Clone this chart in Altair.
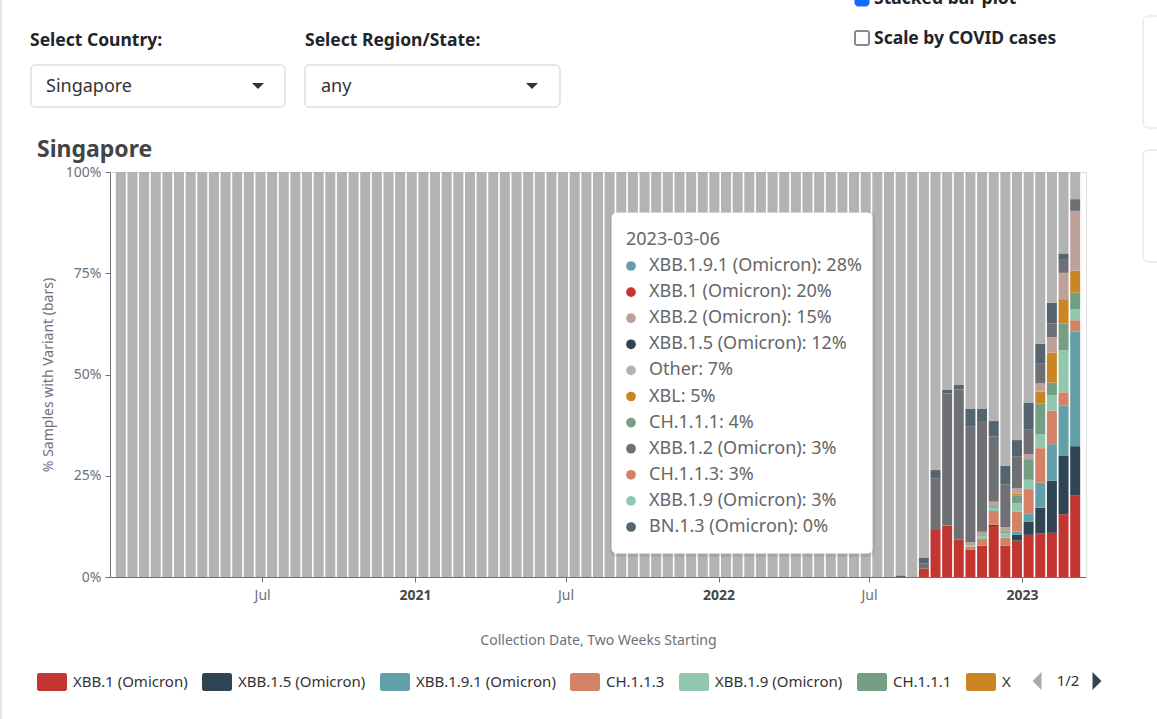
import altair as alt
import pandas as pd

# ---------------- data ----------------
FIRST_DATE = "2020-01-13"   # first two-week bin
N_BARS = 83                 # biweekly bins up to 2023-03-06

variants = ["XBB.1 (Omicron)", "XBB.1.5 (Omicron)", "XBB.1.9.1 (Omicron)", "CH.1.1.3",
            "XBB.1.9 (Omicron)", "CH.1.1.1", "XBL", "XBB.2 (Omicron)",
            "XBB.1.2 (Omicron)", "BN.1.3 (Omicron)", "Other"]
colors = ["#c23531", "#2f4554", "#61a0a8", "#d48265", "#91c7ae", "#749f83",
          "#ca8622", "#bda29a", "#6e7074", "#546570", "#b3b3b3"]

# % of samples per bin (first 67 bins have no named variant)
xbb1 = [0] * 67 + [0, 0, 2.1, 11.6, 12.7, 9.3, 6.8, 7.7, 12.6, 7.7, 9.0, 10.4, 10.8, 10.9, 15.5, 20.2]
xbb15 = [0] * 67 + [0, 0, 0, 0, 0, 0, 0, 0, 0.3, 0, 1.4, 3.3, 6.3, 12.9, 14.5, 12.1]
xbb191 = [0] * 67 + [0, 0, 0, 0, 0, 0, 0, 0, 0, 0, 0.8, 1.9, 6.2, 9.0, 12.3, 28.3]
ch113 = [0] * 67 + [0, 0, 0, 0, 0, 0, 0.7, 1.7, 3.4, 2.0, 4.9, 6.1, 8.5, 8.3, 3.3, 2.8]
xbb19 = [0] * 67 + [0, 0, 0, 0, 0, 0, 0.4, 0.7, 0.8, 1.1, 2.1, 2.3, 3.4, 3.8, 10.4, 2.7]
ch111 = [0] * 67 + [0, 0, 0, 0, 0, 0, 0, 0, 0.4, 0.3, 1.9, 5.1, 7.7, 3.1, 6.6, 4.1]
xbl = [0] * 67 + [0, 0, 0, 0, 0, 0, 0, 0, 0, 0, 0.5, 0, 2.9, 7.4, 6.0, 5.4]
xbb2 = [0] * 67 + [0, 0, 0, 0, 0, 0, 0.7, 1.1, 1.1, 1.2, 1.3, 1.2, 2.0, 3.8, 6.5, 14.8]
xbb12 = [0] * 67 + [0, 0, 1.2, 12.8, 32.7, 37.0, 28.5, 27.3, 16.1, 10.5, 7.8, 6.2, 5.0, 3.4, 3.2, 2.9]
bn13 = [0] * 67 + [0.4, 0, 1.4, 2.0, 0.9, 1.1, 4.5, 3.1, 3.8, 4.7, 4.1, 6.6, 4.8, 5.1, 1.6, 0]
other = [100] * 67 + [99.6, 100, 95.3, 73.6, 53.7, 52.6, 58.4, 58.4, 61.5, 72.5, 66.2, 56.9, 42.4, 32.3, 20.1, 6.7]

series = [xbb1, xbb15, xbb191, ch113, xbb19, ch111, xbl, xbb2, xbb12, bn13, other]

dates = pd.date_range(FIRST_DATE, periods=N_BARS, freq="14D")
rows = []
for k, (name, vals) in enumerate(zip(variants, series)):
    for d, v in zip(dates, vals):
        rows.append({"date": d, "variant": name, "pct": v, "stack_idx": k})
df = pd.DataFrame(rows)
df_bars = df[df["pct"] > 0]

# tooltip for the last bin: sorted by share
last = df[df["date"] == dates[-1]].sort_values("pct", ascending=False, kind="stable").reset_index(drop=True)
last["rank"] = range(len(last))
last["label"] = [f"{n}: {round(v)}%" for n, v in zip(last["variant"], last["pct"])]
last["col"] = [colors[variants.index(n)] for n in last["variant"]]
tooltip_date = dates[-1].strftime("%Y-%m-%d")

# ---------------- layout helpers ----------------
OX, OY = 110, 172          # plot-area origin in page pixels
W, H = 976, 405
FONT = "Noto Sans"
UI_FONT = "Noto Sans"
one = pd.DataFrame({"k": [0]})


def ui_text(text, x, y, size, weight="normal", color="#212529", font=UI_FONT, align="left"):
    return alt.Chart(one).mark_text(text=text, align=align, baseline="middle", fontSize=size,
                                    fontWeight=weight, color=color, font=font).encode(
        x=alt.value(x - OX), y=alt.value(y - OY))


def ui_rect(x1, y1, x2, y2, fill="#ffffff", stroke="#cccccc", r=4, sw=1, opacity=1.0):
    return alt.Chart(one).mark_rect(fill=fill, stroke=stroke, strokeWidth=sw, cornerRadius=r,
                                    opacity=opacity).encode(
        x=alt.value(x1 - OX), x2=alt.value(x2 - OX), y=alt.value(y1 - OY), y2=alt.value(y2 - OY))


def ui_shape(shape, x, y, size, color):
    return alt.Chart(one).mark_point(shape=shape, filled=True, size=size, color=color,
                                     opacity=1, strokeWidth=0).encode(
        x=alt.value(x - OX), y=alt.value(y - OY))


TRI_DOWN = "M-1,-0.5L1,-0.5L0,0.5Z"
TRI_LEFT = "M0.5,-1L0.5,1L-0.5,0Z"
TRI_RIGHT = "M-0.5,-1L-0.5,1L0.5,0Z"
ROUND_RECT = ("M-0.85,-0.6H0.85A0.15,0.15 0 0 1 1,-0.45V0.45A0.15,0.15 0 0 1 0.85,0.6"
              "H-0.85A0.15,0.15 0 0 1 -1,0.45V-0.45A0.15,0.15 0 0 1 -0.85,-0.6Z")

# ---------------- main bars ----------------
year_test = "month(datum.value) == 0"
bars = alt.Chart(df_bars).mark_bar(size=10).encode(
    x=alt.X("date:T",
            scale=alt.Scale(domain=[alt.DateTime(year=2020, month=1, date=6),
                                    alt.DateTime(year=2023, month=3, date=13)], nice=False),
            axis=alt.Axis(
                values=[alt.DateTime(year=2020, month=7, date=1), alt.DateTime(year=2021, month=1, date=1),
                        alt.DateTime(year=2021, month=7, date=1), alt.DateTime(year=2022, month=1, date=1),
                        alt.DateTime(year=2022, month=7, date=1), alt.DateTime(year=2023, month=1, date=1)],
                labelExpr="month(datum.value) == 0 ? timeFormat(datum.value, '%Y') : 'Jul'",
                labelFontWeight={"condition": {"test": year_test, "value": "bold"}, "value": "normal"},
                labelColor={"condition": {"test": year_test, "value": "#464646"}, "value": "#6e7079"},
                grid=False, tickSize=5, tickColor="#6e7079", domainColor="#6e7079",
                labelFontSize=14, labelPadding=6, labelFont=FONT,
                titleFontSize=14, titleFontWeight="normal", titleColor="#6e7079",
                titleFont=FONT, titlePadding=31),
            title="Collection Date, Two Weeks Starting"),
    y=alt.Y("pct:Q", stack="zero", scale=alt.Scale(domain=[0, 100], nice=False),
            axis=alt.Axis(values=[0, 25, 50, 75, 100], labelExpr="datum.value + '%'",
                          grid=False, tickSize=5, tickColor="#6e7079", domainColor="#6e7079",
                          labelColor="#6e7079", labelFontSize=14, labelPadding=4, labelFont=FONT,
                          titleFontSize=14, titleFontWeight="normal", titleColor="#6e7079",
                          titleFont=FONT, titlePadding=10),
            title="% Samples with Variant (bars)"),
    color=alt.Color("variant:N", scale=alt.Scale(domain=variants, range=colors),
                    legend=alt.Legend(values=variants[:7], title=None, orient="none",
                                      legendX=37 - OX, legendY=667 - OY, direction="horizontal",
                                      symbolType=ROUND_RECT, symbolSize=900,
                                      symbolStrokeWidth=0, symbolOpacity=1,
                                      labelFontSize=15, labelColor="#333333", labelFont=FONT,
                                      labelOffset=6, columnPadding=14, labelLimit=300,
                                      labelExpr="datum.label == 'XBL' ? 'X' : datum.label")),
    order=alt.Order("stack_idx:Q", sort="ascending"),
)

# ---------------- title ----------------
title = ui_text("Singapore", 37, 150, 23, weight="bold", color="#444444", font=FONT)

# ---------------- tooltip box ----------------
tip_shadow = ui_rect(610, 212, 875, 557, fill="#000000", stroke=None, r=6, sw=0, opacity=0.08)
tip_box = ui_rect(612, 213, 872, 553, fill="#ffffff", stroke="#ffffff", r=4, sw=1)
tip_date = ui_text(tooltip_date, 626, 240, 18, color="#666666", font=FONT)
row_scale = alt.Scale(type="point", domain=list(range(len(last))), range=[266 - OY, 527 - OY], padding=0)
tip_dots = alt.Chart(last).mark_circle(size=95, opacity=1).encode(
    x=alt.value(631 - OX),
    y=alt.Y("rank:O", scale=row_scale, axis=None),
    color=alt.Color("col:N", scale=None),
)
tip_text = alt.Chart(last).mark_text(align="left", baseline="middle", fontSize=18, color="#666666",
                                     font=FONT).encode(
    x=alt.value(649 - OX),
    y=alt.Y("rank:O", scale=row_scale, axis=None),
    text="label:N",
)

# ---------------- page widgets ----------------
page_edge = ui_rect(0, 0, 2, 719, fill="#e6e6e6", stroke=None, r=0, sw=0)
lbl_country = ui_text("Select Country:", 30, 41, 17.5, weight="bold")
lbl_region = ui_text("Select Region/State:", 305, 41, 17.5, weight="bold")
box_country = ui_rect(31, 65, 285, 107, stroke="#cfcfcf", r=4)
box_region = ui_rect(305, 65, 560, 107, stroke="#cfcfcf", r=4)
txt_country = ui_text("Singapore", 46, 87, 18, color="#333333")
txt_region = ui_text("any", 321, 87, 18, color="#333333")
tri_country = ui_shape(TRI_DOWN, 258, 86, 144, "#333333")
tri_region = ui_shape(TRI_DOWN, 532, 86, 144, "#333333")
chk1 = ui_rect(855, -8, 869, 6, fill="#0d6efd", stroke="#0d6efd", r=3)
chk1_txt = ui_text("Stacked bar plot", 874, -1, 17.5, weight="bold")
chk2 = ui_rect(855, 31, 869, 45, fill="#ffffff", stroke="#8a8a94", r=2, sw=2)
chk2_txt = ui_text("Scale by COVID cases", 874, 39, 17.5, weight="bold")
card1 = ui_rect(1143, 16, 1180, 128, fill="#ffffff", stroke="#dcdcdc", r=6)
card2 = ui_rect(1143, 150, 1180, 262, fill="#ffffff", stroke="#dcdcdc", r=6)

# legend pager
pg_left = ui_shape(TRI_LEFT, 1037, 681, 324, "#aaaaaa")
pg_txt = ui_text("1/2", 1068, 681, 15, color="#333333", font=FONT, align="center")
pg_right = ui_shape(TRI_RIGHT, 1097, 681, 324, "#2f4554")

chart = alt.layer(
    page_edge, lbl_country, lbl_region, box_country, box_region, txt_country, txt_region,
    tri_country, tri_region, chk1, chk1_txt, chk2, chk2_txt, card1, card2,
    bars, title, tip_shadow, tip_box, tip_date, tip_dots, tip_text,
    pg_left, pg_txt, pg_right,
).resolve_scale(
    y="independent", color="independent"
).properties(
    width=W, height=H,
    autosize=alt.AutoSizeParams(type="none"),
    padding={"left": OX, "top": OY, "right": 1157 - OX - W, "bottom": 719 - OY - H},
    background="#ffffff",
).configure_view(stroke=None).configure(font=FONT)

chart.save("out.html", embed_options={"renderer": "svg", "actions": False})
